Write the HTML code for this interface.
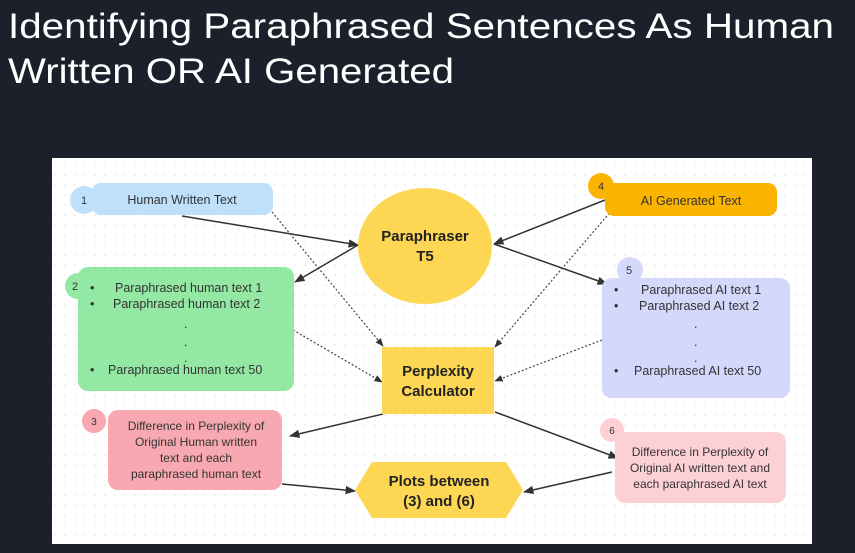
<!DOCTYPE html>
<html><head><meta charset="utf-8"><style>
html,body{margin:0;padding:0;background:#1b202b;}
svg{display:block;}
text{font-family:"Liberation Sans",sans-serif;}
</style></head><body>
<svg width="855" height="553" viewBox="0 0 855 553" xmlns="http://www.w3.org/2000/svg">
<defs>
<pattern id="dots" width="10" height="10" patternUnits="userSpaceOnUse"><circle cx="5" cy="5" r="0.8" fill="#e2e2e2"/></pattern>
<marker id="ah" viewBox="0 0 10 10" refX="9" refY="5" markerWidth="7" markerHeight="7" orient="auto"><path d="M0,1 L10,5 L0,9 z" fill="#333"/></marker>
</defs>
<rect width="855" height="553" fill="#1b202b"/>
<text x="8" y="38" font-size="35" fill="#fff" textLength="826" lengthAdjust="spacingAndGlyphs">Identifying Paraphrased Sentences As Human</text>
<text x="8" y="83" font-size="35" fill="#fff" textLength="446" lengthAdjust="spacingAndGlyphs">Written OR AI Generated</text>
<rect x="52" y="158" width="760" height="386" fill="#fff"/>
<rect x="52" y="158" width="760" height="386" fill="url(#dots)"/>

<!-- connectors -->
<g stroke="#333" stroke-width="1.5" fill="none">
<line x1="182" y1="216" x2="358" y2="245" marker-end="url(#ah)"/>
<line x1="358" y1="245" x2="295" y2="282" marker-end="url(#ah)"/>
<line x1="605" y1="200" x2="494" y2="244" marker-end="url(#ah)"/>
<line x1="494" y1="244" x2="607" y2="284" marker-end="url(#ah)"/>
<line x1="383" y1="414" x2="290" y2="436" marker-end="url(#ah)"/>
<line x1="495" y1="412" x2="618" y2="458" marker-end="url(#ah)"/>
<line x1="282" y1="484" x2="355" y2="491" marker-end="url(#ah)"/>
<line x1="612" y1="472" x2="524" y2="492" marker-end="url(#ah)"/>
</g>
<g stroke="#444" stroke-width="1.2" fill="none" stroke-dasharray="2,2">
<line x1="272" y1="212" x2="383" y2="346" marker-end="url(#ah)"/>
<line x1="293" y1="330" x2="382" y2="382" marker-end="url(#ah)"/>
<line x1="612" y1="210" x2="495" y2="347" marker-end="url(#ah)"/>
<line x1="602" y1="340" x2="495" y2="381" marker-end="url(#ah)"/>
</g>

<!-- 1 -->
<circle cx="84" cy="200" r="14" fill="#bfe0fb"/>
<rect x="92" y="183" width="181" height="32" rx="9" fill="#bfe0fb"/>
<text x="84" y="204" font-size="11" fill="#333" text-anchor="middle">1</text>
<text x="182" y="204" font-size="12.5" fill="#333" text-anchor="middle">Human Written Text</text>

<!-- Paraphraser -->
<ellipse cx="425" cy="246" rx="67" ry="58" fill="#fdd754"/>
<text x="425" y="241" font-size="15" font-weight="bold" fill="#222" text-anchor="middle">Paraphraser</text>
<text x="425" y="261" font-size="15" font-weight="bold" fill="#222" text-anchor="middle">T5</text>

<!-- 2 -->
<circle cx="78" cy="286" r="13" fill="#93e9a4"/>
<rect x="78" y="267" width="216" height="124" rx="10" fill="#93e9a4"/>
<g font-size="12.5" fill="#333">
<text x="72" y="290" font-size="11">2</text>
<text x="90" y="292">•</text><text x="115" y="292">Paraphrased human text 1</text>
<text x="90" y="308">•</text><text x="113" y="308">Paraphrased human text 2</text>
<text x="184" y="328">.</text><text x="184" y="346">.</text><text x="184" y="362">.</text>
<text x="90" y="374">•</text><text x="108" y="374">Paraphrased human text 50</text>
</g>

<!-- Perplexity -->
<rect x="382" y="347" width="112" height="67" fill="#fdd754"/>
<text x="438" y="376" font-size="15" font-weight="bold" fill="#222" text-anchor="middle">Perplexity</text>
<text x="438" y="396" font-size="15" font-weight="bold" fill="#222" text-anchor="middle">Calculator</text>

<!-- 4 -->
<circle cx="601" cy="186" r="13" fill="#fbb500"/>
<rect x="605" y="183" width="172" height="33" rx="9" fill="#fbb500"/>
<text x="601" y="190" font-size="11" fill="#333" text-anchor="middle">4</text>
<text x="691" y="205" font-size="12.5" fill="#333" text-anchor="middle">AI Generated Text</text>

<!-- 5 -->
<circle cx="630" cy="270" r="13" fill="#d4d8fb"/>
<rect x="602" y="278" width="188" height="120" rx="10" fill="#d4d8fb"/>
<g font-size="12.5" fill="#333">
<text x="626" y="274" font-size="11">5</text>
<text x="614" y="294">•</text><text x="641" y="294">Paraphrased AI text 1</text>
<text x="614" y="310">•</text><text x="639" y="310">Paraphrased AI text 2</text>
<text x="694" y="328">.</text><text x="694" y="346">.</text><text x="694" y="362">.</text>
<text x="614" y="375">•</text><text x="634" y="375">Paraphrased AI text 50</text>
</g>

<!-- 3 -->
<circle cx="94" cy="421" r="12" fill="#f8a8b0"/>
<rect x="108" y="410" width="174" height="80" rx="10" fill="#f8a8b0"/>
<g font-size="12" fill="#333" text-anchor="middle">
<text x="94" y="425" font-size="10">3</text>
<text x="196" y="430">Difference in Perplexity of</text>
<text x="196" y="446">Original Human written</text>
<text x="196" y="462">text and each</text>
<text x="196" y="478">paraphrased human text</text>
</g>

<!-- 6 -->
<circle cx="612" cy="430" r="12" fill="#fdd0d6"/>
<rect x="615" y="432" width="171" height="71" rx="10" fill="#fdd0d6"/>
<g font-size="12" fill="#333" text-anchor="middle">
<text x="612" y="434" font-size="10">6</text>
<text x="700" y="456">Difference in Perplexity of</text>
<text x="700" y="472">Original AI written text and</text>
<text x="700" y="488">each paraphrased AI text</text>
</g>

<!-- Hexagon -->
<polygon points="355,490 372,462 506,462 523,490 506,518 372,518" fill="#fdd754"/>
<text x="439" y="486" font-size="15" font-weight="bold" fill="#222" text-anchor="middle">Plots between</text>
<text x="439" y="506" font-size="15" font-weight="bold" fill="#222" text-anchor="middle">(3) and (6)</text>
</svg>
</body></html>
